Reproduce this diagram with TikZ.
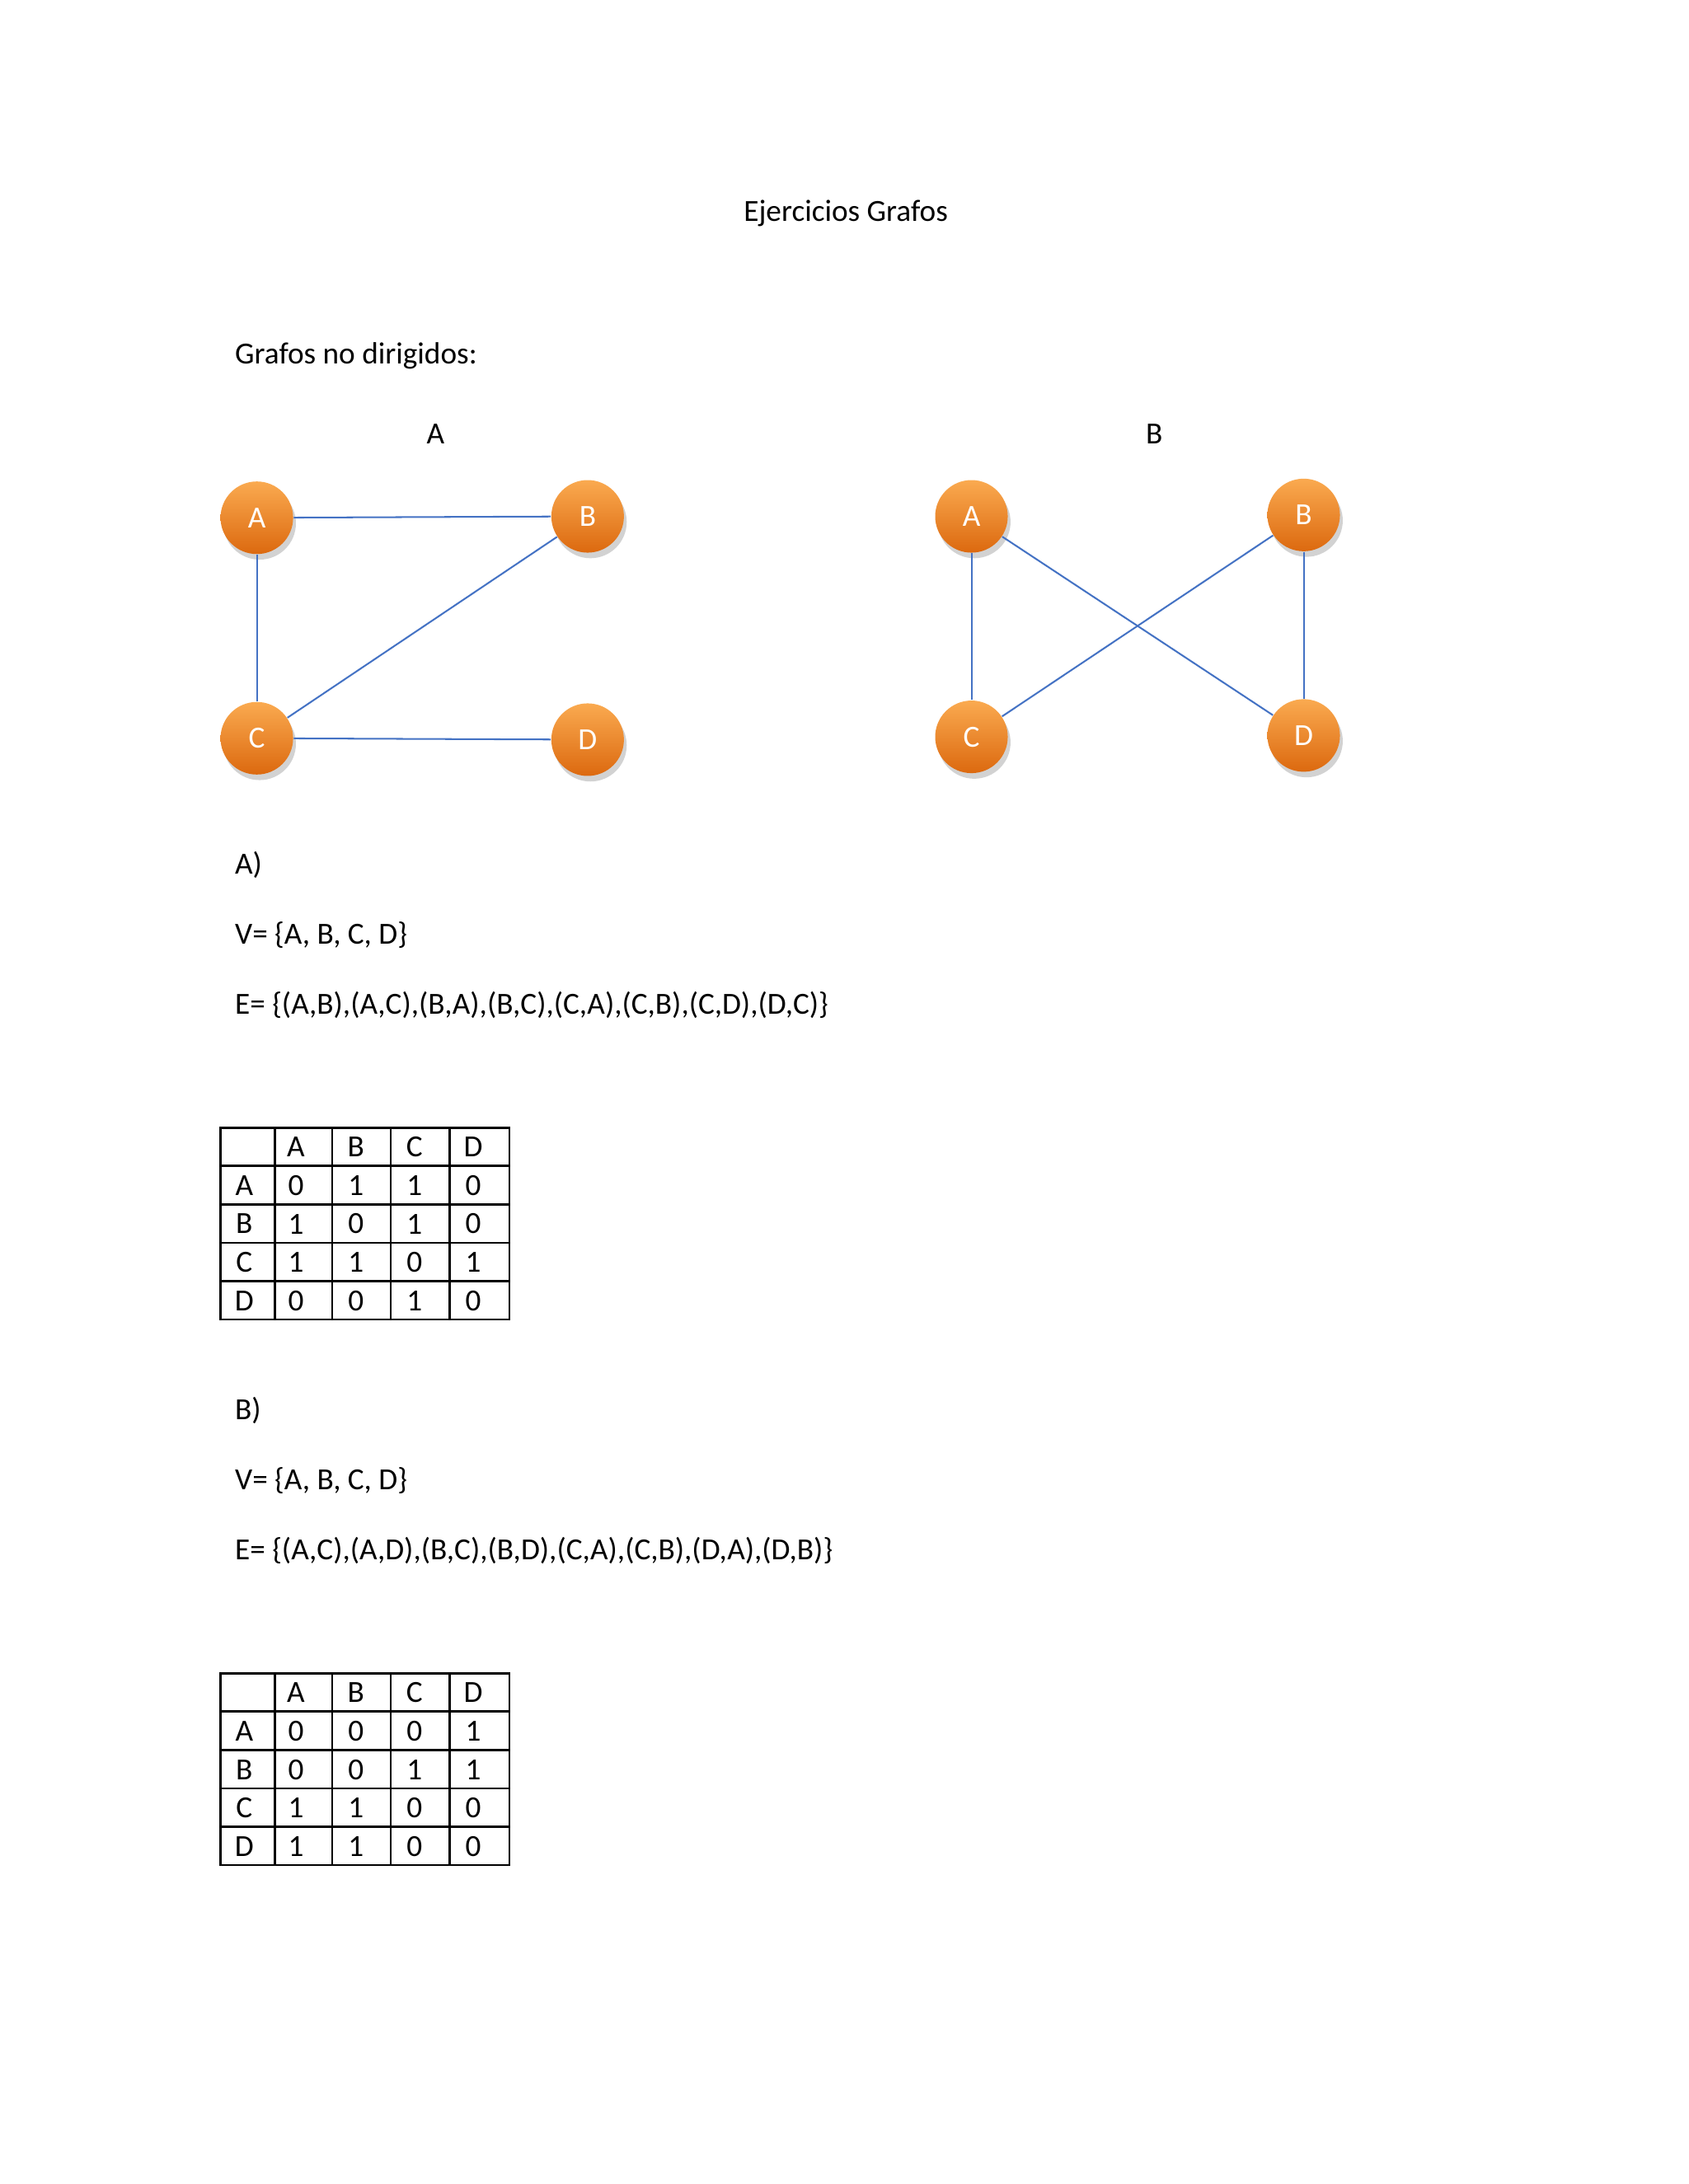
\documentclass[tikz,border=0pt]{standalone}
\usepackage{fontspec}
\setmainfont{Carlito}
\usetikzlibrary{shadows}
\begin{document}
\begin{tikzpicture}[x=0.5pt,y=-0.5pt,
 every node/.style={font=\fontsize{11}{13}\selectfont},
 vtx/.style={circle,minimum size=26pt,inner sep=0pt,top color={rgb,255:red,250;green,170;blue,80},bottom color={rgb,255:red,220;green,105;blue,15},draw=none,text=white,drop shadow={opacity=0.35,shadow xshift=1pt,shadow yshift=-2pt}},
 edge/.style={draw={rgb,255:red,68;green,114;blue,196},line width=0.6pt},
 txt/.style={anchor=west,inner sep=0pt},
 cell/.style={inner sep=0pt}]
\fill[white] (0,0) rectangle (1210,1565);
\node (title) at (606,153) {Ejercicios Grafos};
\node[txt] (sub) at (168,255) {Grafos no dirigidos:};
\node (la) at (312,311) {A};
\node (lb) at (827,311) {B};
% graph A
\node[vtx] (a1) at (184,371) {A};
\node[vtx] (b1) at (421,370) {B};
\node[vtx] (c1) at (184,529) {C};
\node[vtx] (d1) at (421,530) {D};
\draw[edge] (a1)--(b1); \draw[edge] (a1)--(c1); \draw[edge] (b1)--(c1); \draw[edge] (c1)--(d1);
% graph B
\node[vtx] (a2) at (696,370) {A};
\node[vtx] (b2) at (934,369) {B};
\node[vtx] (c2) at (696,528) {C};
\node[vtx] (d2) at (934,527) {D};
\draw[edge] (a2)--(c2); \draw[edge] (a2)--(d2); \draw[edge] (b2)--(c2); \draw[edge] (b2)--(d2);
% texts
\node[txt] (t1) at (168,620) {A)};
\node[txt] (t2) at (168,670) {V= \{A, B, C, D\}};
\node[txt] (t3) at (168,720) {E= \{(A,B),(A,C),(B,A),(B,C),(C,A),(C,B),(C,D),(D,C)\}};
\node[txt] (t4) at (168,1011) {B)};
\node[txt] (t5) at (168,1061) {V= \{A, B, C, D\}};
\node[txt] (t6) at (168,1111) {E= \{(A,C),(A,D),(B,C),(B,D),(C,A),(C,B),(D,A),(D,B)\}};
% tables
\foreach \yo/\data in {808/{{ ,A,B,C,D},{A,0,1,1,0},{B,1,0,1,0},{C,1,1,0,1},{D,0,0,1,0}},
                       1199/{{ ,A,B,C,D},{A,0,0,0,1},{B,0,0,1,1},{C,1,1,0,0},{D,1,1,0,0}}}{
  \draw[line width=0.8pt] (158,\yo) rectangle (365,\yo+137.5);
  \foreach \xx in {197,238,280,322} \draw[line width=0.8pt] (\xx,\yo)--(\xx,\yo+137.5);
  \foreach \k in {1,2,3,4} \draw[line width=0.8pt] (158,\yo+27.5*\k)--(365,\yo+27.5*\k);
  \foreach \row [count=\r from 0] in \data {
    \foreach \v [count=\c from 0] in \row {
      \pgfmathsetmacro{\cx}{\c==0 ? 175 : (\c==1 ? 212 : (\c==2 ? 255 : (\c==3 ? 297 : 339)))}
      \node[cell] at (\cx,\yo+14+27.5*\r) {\v};
    }
  }
}
\end{tikzpicture}
\end{document}
